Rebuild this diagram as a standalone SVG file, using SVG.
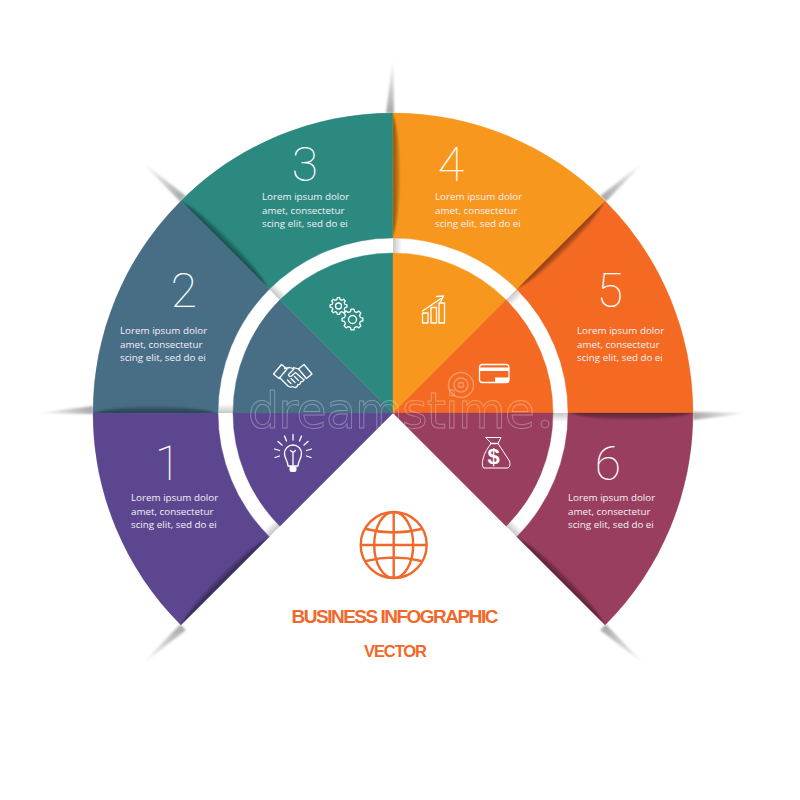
<svg xmlns="http://www.w3.org/2000/svg" width="800" height="800" viewBox="0 0 800 800">
<style>
.w{stroke-width:.4}
.n{font-family:Roboto,"Liberation Sans",sans-serif;font-weight:100;font-size:48px;fill:#fff;text-anchor:middle}
.t{font-family:"Open Sans","Liberation Sans",sans-serif;font-size:9.8px;fill:#f4f1f6}
.i{fill:none;stroke:#fff;stroke-width:1.3;stroke-linejoin:round;stroke-linecap:round}
.f{fill:#fff;stroke:none}
.g{fill:none;stroke:#f0682a;stroke-width:2.4}
.h{font-family:"Liberation Sans",Arial,sans-serif;font-weight:700;fill:#f0682a;text-anchor:middle}
.m{font-family:"DejaVu Sans","Liberation Sans",sans-serif;font-size:49px;fill:none;stroke:#fff;stroke-width:.9;opacity:.3}
</style>
<defs>
<filter id="b3" x="-20%" y="-100%" width="140%" height="300%"><feGaussianBlur stdDeviation=".9"/></filter>
<filter id="b1" x="-20%" y="-100%" width="140%" height="300%"><feGaussianBlur stdDeviation="1.2"/></filter>
<linearGradient id="ls" gradientUnits="userSpaceOnUse" x1="0" y1="0" x2="0" y2="10"><stop offset="0" stop-color="#000" stop-opacity=".42"/><stop offset="1" stop-color="#000" stop-opacity="0"/></linearGradient>
<linearGradient id="sp" gradientUnits="userSpaceOnUse" x1="300" y1="0" x2="356" y2="0"><stop offset="0" stop-color="#000" stop-opacity=".34"/><stop offset="1" stop-color="#000" stop-opacity="0"/></linearGradient>
<linearGradient id="rg" gradientUnits="userSpaceOnUse" x1="0" y1="0" x2="0" y2="9"><stop offset="0" stop-color="#000" stop-opacity=".22"/><stop offset="1" stop-color="#000" stop-opacity="0"/></linearGradient>
<path id="lens" d="M176 -1L300 -1C282 9 194 9 176 -1Z" fill="url(#ls)" filter="url(#b3)"/>
<path id="spk" d="M300 -1L356 0L300 7Z" fill="url(#sp)" filter="url(#b1)"/>
<rect id="rgp" x="159" y="0" width="17" height="9" fill="url(#rg)"/>
<path id="gear" vector-effect="non-scaling-stroke" d="M7.57 -1.89L9.9 -1.39L9.9 1.39L7.57 1.89L6.69 4.02L7.98 6.02L6.02 7.98L4.02 6.69L1.89 7.57L1.39 9.9L-1.39 9.9L-1.89 7.57L-4.02 6.69L-6.02 7.98L-7.98 6.02L-6.69 4.02L-7.57 1.89L-9.9 1.39L-9.9 -1.39L-7.57 -1.89L-6.69 -4.02L-7.98 -6.02L-6.02 -7.98L-4.02 -6.69L-1.89 -7.57L-1.39 -9.9L1.39 -9.9L1.89 -7.57L4.02 -6.69L6.02 -7.98L7.98 -6.02L6.69 -4.02Z"/>
<clipPath id="c1"><path d="M269.26 536.74L180.9 625.1A300 300 0 0 1 93 413L218 413A175 175 0 0 0 269.26 536.74Z"/></clipPath>
<clipPath id="c2"><path d="M218 413L93 413A300 300 0 0 1 180.9 200.9L269.26 289.26A175 175 0 0 0 218 413Z"/></clipPath>
<clipPath id="c3"><path d="M269.26 289.26L180.9 200.9A300 300 0 0 1 393 113L393 238A175 175 0 0 0 269.26 289.26Z"/></clipPath>
<clipPath id="c4"><path d="M393 238L393 113A300 300 0 0 1 605.1 200.9L516.74 289.26A175 175 0 0 0 393 238Z"/></clipPath>
<clipPath id="c5"><path d="M516.74 289.26L605.1 200.9A300 300 0 0 1 693 413L568 413A175 175 0 0 0 516.74 289.26Z"/></clipPath>
<clipPath id="c6"><path d="M568 413L693 413A300 300 0 0 1 605.1 625.1L516.74 536.74A175 175 0 0 0 568 413Z"/></clipPath>
<clipPath id="ann"><path clip-rule="evenodd" d="M218 413A175 175 0 1 1 568 413A175 175 0 1 1 218 413ZM233 413A160 160 0 1 0 553 413A160 160 0 1 0 233 413Z"/></clipPath>
</defs>
<rect width="800" height="800" fill="#fff"/>

<g id="connectors">
<g transform="translate(393 413)">
<use href="#spk" transform="rotate(135) scale(1 -1)"/>
<use href="#spk" transform="rotate(180)"/>
<use href="#spk" transform="rotate(225)"/>
<use href="#spk" transform="rotate(270) scale(1 -1)"/>
<use href="#spk" transform="rotate(315) scale(1 -1)"/>
<use href="#spk" transform="rotate(0)"/>
<use href="#spk" transform="rotate(45)"/>
</g>
<g clip-path="url(#ann)"><g transform="translate(393 413)">
<use href="#rgp" transform="rotate(135)"/>
<use href="#rgp" transform="rotate(180)"/>
<use href="#rgp" transform="rotate(225)"/>
<use href="#rgp" transform="rotate(270)"/>
<use href="#rgp" transform="rotate(315)"/>
<use href="#rgp" transform="rotate(0)"/>
<use href="#rgp" transform="rotate(45) scale(1 -1)"/>
</g></g>
</g>

<g id="node-1">
<path class="w" fill="#5d4690" stroke="#5d4690" d="M269.26 536.74L180.9 625.1A300 300 0 0 1 93 413L218 413A175 175 0 0 0 269.26 536.74ZM393 413L279.86 526.14A160 160 0 0 1 233 413Z"/>
<g clip-path="url(#c1)"><use href="#lens" transform="translate(393 413) rotate(135)"/></g>
<text class="n" x="168" y="480">1</text>
<text class="t" x="131" y="501">Lorem ipsum dolor</text><text class="t" x="131" y="514.5">amet, consectetur</text><text class="t" x="131" y="528">scing elit, sed do ei</text>
<g class="i"><path d="M288 466C288 461 284.500 459 284.500 453.500A8.500 8.500 0 0 1 301.500 453.500C301.500 459 298 461 298 466Z"/><path d="M293 466V452M290.500 450.500L293 452.500L295.500 450.500"/><path d="M293 440V434.500M286.500 441L284.500 436M299.500 441L301.500 436M282 445L278 441.500M304 445L308 441.500M279.500 450.500L274.500 449M306.500 450.500L311.500 449M279.500 456L275 457.500M306.500 456L311 457.500"/><path class="f" d="M289.500 466.500H296.500V470A2 2 0 0 1 294.500 472H291.500A2 2 0 0 1 289.500 470Z"/></g>
</g>

<g id="node-2">
<path class="w" fill="#476e85" stroke="#476e85" d="M218 413L93 413A300 300 0 0 1 180.9 200.900L269.26 289.26A175 175 0 0 0 218 413ZM393 413L233 413A160 160 0 0 1 279.86 299.86Z"/>
<g clip-path="url(#c2)"><use href="#lens" transform="translate(393 413) rotate(180)"/></g>
<text class="n" x="184" y="306.700">2</text>
<text class="t" x="120" y="334">Lorem ipsum dolor</text><text class="t" x="120" y="347.500">amet, consectetur</text><text class="t" x="120" y="361">scing elit, sed do ei</text>
<g class="i"><path d="M273.500 374L281.500 364.500L287 369L279 378.500Z"/><path d="M312 374L304 364.500L298.500 369L306.500 378.500Z"/><path d="M284.500 368.500L290 367.500L294 369L288.500 374.500C288 376 290 377 291.500 376L295.500 372.500L304 380M298.500 369L293.500 367.500M279.500 377.500L287 385C288.500 387 291 387.500 292.500 386.500L294.500 387.500C296.500 387.500 297.500 386 297.500 385C299.500 385 301 383.500 300.500 382C302.500 382 304.500 380.500 304 379M287.500 380L291 383.500M291 378.500L295 382.500M294.500 376.500L298.500 380.500"/></g>
</g>

<g id="node-3">
<path class="w" fill="#2b8980" stroke="#2b8980" d="M269.26 289.26L180.9 200.900A300 300 0 0 1 393 113L393 238A175 175 0 0 0 269.26 289.26ZM393 413L279.86 299.86A160 160 0 0 1 393 253Z"/>
<g clip-path="url(#c3)"><use href="#lens" transform="translate(393 413) rotate(225)"/></g>
<text class="n" x="305" y="180.700">3</text>
<text class="t" x="262" y="200">Lorem ipsum dolor</text><text class="t" x="262" y="213.500">amet, consectetur</text><text class="t" x="262" y="227">scing elit, sed do ei</text>
<g class="i"><use href="#gear" transform="translate(338.500 306) scale(.85)"/><circle cx="338.500" cy="306" r="3"/><use href="#gear" transform="translate(352.500 319.500) scale(1.05)"/><circle cx="352.500" cy="319.500" r="4"/></g>
</g>

<g id="node-4">
<path class="w" fill="#f8971d" stroke="#f8971d" d="M393 238L393 113A300 300 0 0 1 605.1 200.900L516.74 289.26A175 175 0 0 0 393 238ZM393 413L393 253A160 160 0 0 1 506.14 299.86Z"/>
<g clip-path="url(#c4)"><use href="#lens" transform="translate(393 413) rotate(270)"/></g>
<text class="n" x="451" y="180.700">4</text>
<text class="t" x="435" y="200">Lorem ipsum dolor</text><text class="t" x="435" y="213.500">amet, consectetur</text><text class="t" x="435" y="227">scing elit, sed do ei</text>
<g class="i"><rect x="422.500" y="313" width="5.500" height="10"/><rect x="431" y="307.500" width="5.500" height="15.500"/><rect x="439" y="303" width="5.500" height="20"/><path d="M422.500 311L441 298.500M436.500 296.500L443.500 296L440.500 302"/></g>
</g>

<g id="node-5">
<path class="w" fill="#f46a23" stroke="#f46a23" d="M516.74 289.26L605.1 200.900A300 300 0 0 1 693 413L568 413A175 175 0 0 0 516.74 289.26ZM393 413L506.14 299.86A160 160 0 0 1 553 413Z"/>
<g clip-path="url(#c5)"><use href="#lens" transform="translate(393 413) rotate(315)"/></g>
<text class="n" x="610" y="306.700">5</text>
<text class="t" x="577" y="334">Lorem ipsum dolor</text><text class="t" x="577" y="347.500">amet, consectetur</text><text class="t" x="577" y="361">scing elit, sed do ei</text>
<g class="i"><rect x="479.500" y="364.500" width="29.500" height="18" rx="3"/><rect class="f" x="479.500" y="367.500" width="29.500" height="3.500"/><rect class="f" x="495" y="377.500" width="14" height="5"/></g>
</g>

<g id="node-6">
<path class="w" fill="#9a3e5f" stroke="#9a3e5f" d="M568 413L693 413A300 300 0 0 1 605.1 625.1L516.74 536.74A175 175 0 0 0 568 413ZM393 413L553 413A160 160 0 0 1 506.14 526.14Z"/>
<g clip-path="url(#c6)"><use href="#lens" transform="translate(393 413) rotate(0)"/><use href="#lens" transform="translate(393 413) rotate(45) scale(1 -1)"/></g>
<text class="n" x="608" y="480">6</text>
<text class="t" x="568" y="501">Lorem ipsum dolor</text><text class="t" x="568" y="514.500">amet, consectetur</text><text class="t" x="568" y="528">scing elit, sed do ei</text>
<g class="i"><path stroke-width="1" d="M486 437.500H501L498 443.500L509.500 461C510.500 464 510 467 508 468H483.500C482 466 482 462 483 459C484 453 488 448 491 443.500Z"/><path d="M491 443.500H498"/></g>
<text x="493.500" y="464" style="font-family:'Liberation Sans',Arial,sans-serif;font-weight:700;font-size:22px;fill:#fff;text-anchor:middle">$</text>
</g>

<g id="center">
<circle class="g" cx="393.700" cy="545" r="33"/>
<ellipse class="g" cx="393.700" cy="545" rx="19.500" ry="33"/>
<path class="g" d="M393.700 512V578M360.700 545H426.700M366 529Q393.700 536 421.400 529M366 561Q393.700 554 421.400 561"/>
<text class="h" x="395" y="622.700" font-size="19" textLength="207" lengthAdjust="spacing">BUSINESS INFOGRAPHIC</text>
<text class="h" x="395.500" y="657" font-size="16.500" textLength="63" lengthAdjust="spacing">VECTOR</text>
</g>

<g id="watermark">
<text class="m" x="248" y="428" textLength="287" lengthAdjust="spacing">dreamstime</text>
<circle cx="461" cy="385" r="12.500" fill="none" stroke="#fff" stroke-width="1.500" opacity=".3"/>
<circle cx="461" cy="385" r="7" fill="none" stroke="#fff" stroke-width="1.500" opacity=".3"/>
<circle cx="461" cy="385" r="2.500" fill="none" stroke="#fff" stroke-width="1.500" opacity=".3"/>
<circle cx="545" cy="424" r="4" fill="none" stroke="#fff" stroke-width=".8" opacity=".35"/>
</g>
</svg>
